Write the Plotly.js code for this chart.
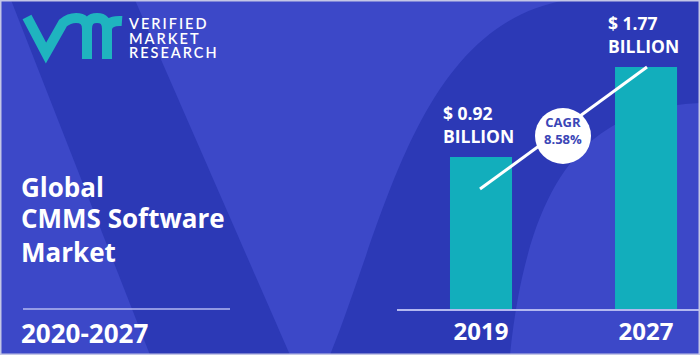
<!DOCTYPE html>
<html>
<head>
<meta charset="utf-8">
<script src="https://cdn.plot.ly/plotly-3.0.1.min.js"></script>
<style>
html,body{margin:0;padding:0;background:#3C48C8;}
#chart{width:700px;height:355px;}
g.annotation.brand text{letter-spacing:2px;}
</style>
</head>
<body>
<div id="chart"></div>
<script>
// ---- data ----
const years = ['2019', '2027'];
const values = [0.92, 1.77];
const valueLabels = ['$ 0.92<br>BILLION', '$ 1.77<br>BILLION'];
const cagrLabel = 'CAGR<br>8.58%';
const titleLines = ['Global', 'CMMS Software', 'Market'];
const periodLabel = '2020-2027';
const brandLines = ['VERIFIED', 'MARKET', 'RESEARCH'];

// ---- styling / geometry ----
const W = 700, H = 355;
const LIGHT = '#3C48C8', DARK = '#2C39B6', TEAL = '#12AEBC', LAV = '#B3B8F0';
const X = px => px / W;
const Y = py => 1 - py / H;
const P = (x, y) => X(x) + ',' + Y(y);
const yMin = -0.515, yMax = 2.403;

const shapes = [
  {type:'path', xref:'paper', yref:'paper', layer:'below', line:{width:0}, fillcolor:DARK,
   path:`M${P(11,0)} L${P(135,0)} L${P(290,355)} L${P(150,355)} Z`},
  {type:'path', xref:'paper', yref:'paper', layer:'below', line:{width:0}, fillcolor:DARK,
   path:`M${P(330,355)} C${P(385,220)} ${P(418,25)} ${P(567,0)} L${P(700,0)} L${P(700,103)} C${P(600,108)} ${P(530,160)} ${P(510,355)} Z`},
  // logo "vmr"
  {type:'path', xref:'paper', yref:'paper', layer:'above', line:{width:10, color:'#1FB4BF'}, fillcolor:'rgba(0,0,0,0)',
   path:`M${P(27,17)} L${P(46,53)} L${P(63,23)} Q${P(69,18)} ${P(76,18)} Q${P(87,18)} ${P(87,29)} L${P(87,59)} M${P(87,29)} Q${P(87,18)} ${P(97,18)} Q${P(107,18)} ${P(107,29)} L${P(107,59)} M${P(107,29)} Q${P(108,20)} ${P(122,21)}`},
  {type:'line', xref:'paper', yref:'paper', x0:X(23), x1:X(230), y0:Y(309), y1:Y(309), line:{color:LAV, width:1.5}},
  {type:'line', xref:'paper', yref:'paper', x0:X(480), y0:Y(189), x1:X(647), y1:Y(67), line:{color:'#FFFFFF', width:3}},
  {type:'circle', xref:'paper', yref:'paper', x0:X(535), x1:X(591), y0:Y(164), y1:Y(108), fillcolor:'#FFFFFF', line:{width:0}},
  {type:'rect', xref:'paper', yref:'paper', x0:0, x1:1, y0:0, y1:1, line:{color:'#C3C6E6', width:3}, fillcolor:'rgba(0,0,0,0)'}
];

const font = (size, color, weight, family) => ({family: family || '"Open Sans", sans-serif', size, color, weight: weight || 'bold'});

const annotations = [];
const titleY = [186.5, 218.5, 251.5];
titleLines.forEach((t, i) => annotations.push({xref:'paper', yref:'paper', x:X(19), y:Y(titleY[i]), xanchor:'left', yanchor:'middle',
  text:t, showarrow:false, font:font(26, '#FFFFFF')}));
annotations.push({xref:'paper', yref:'paper', x:X(19), y:Y(333), xanchor:'left', yanchor:'middle',
  text:periodLabel, showarrow:false, font:font(26, '#FFFFFF')});
// brand block (one text, lines tightened after render)
annotations.push({xref:'paper', yref:'paper', x:X(126), y:Y(13), xanchor:'left', yanchor:'top', align:'left',
  text:brandLines.join('<br>'), showarrow:false, font:font(14.5, '#FFFFFF', 600, 'Lato, sans-serif')});
// value labels on bars (x given as category index)
years.forEach((yr, i) => annotations.push({xref:'x', yref:'y', x:i, y:values[i], xanchor:'center', yanchor:'bottom', align:'left',
  yshift:7, xshift:-3, text:valueLabels[i], showarrow:false, font:font(17.5, '#FFFFFF')}));
annotations.push({xref:'paper', yref:'paper', x:X(563), y:Y(131), xanchor:'center', yanchor:'middle',
  text:cagrLabel, showarrow:false, font:font(13, '#3B46B6')});

const trace = {
  type:'bar', x:years, y:values.map(v => v - yMin), base:yMin, width:0.376,
  marker:{color:TEAL, line:{width:0}}, hoverinfo:'skip', textposition:'none'
};

const layout = {
  width:W, height:H, margin:{l:0, r:0, t:0, b:0, pad:0},
  paper_bgcolor:LIGHT, plot_bgcolor:'rgba(0,0,0,0)', showlegend:false,
  xaxis:{type:'category', domain:[397/W, 1], range:[-0.509, 1.327], showgrid:false, zeroline:false,
    showline:true, linecolor:LAV, linewidth:2, ticks:'', tickfont:font(24, '#FFFFFF'), fixedrange:true},
  yaxis:{domain:[46/H, 1], range:[yMin, yMax], visible:false, fixedrange:true},
  shapes, annotations
};

Plotly.newPlot('chart', [trace], layout, {staticPlot:true, displayModeBar:false}).then(() => {
  document.querySelectorAll('g.annotation').forEach(g => {
    const t = g.querySelector('text');
    if (t && t.textContent.indexOf('VERIFIED') === 0) {
      g.classList.add('brand');
      t.querySelectorAll('tspan.line').forEach((ts, i) => ts.setAttribute('dy', (i * 1.0) + 'em'));
    }
  });
});
</script>
</body>
</html>
